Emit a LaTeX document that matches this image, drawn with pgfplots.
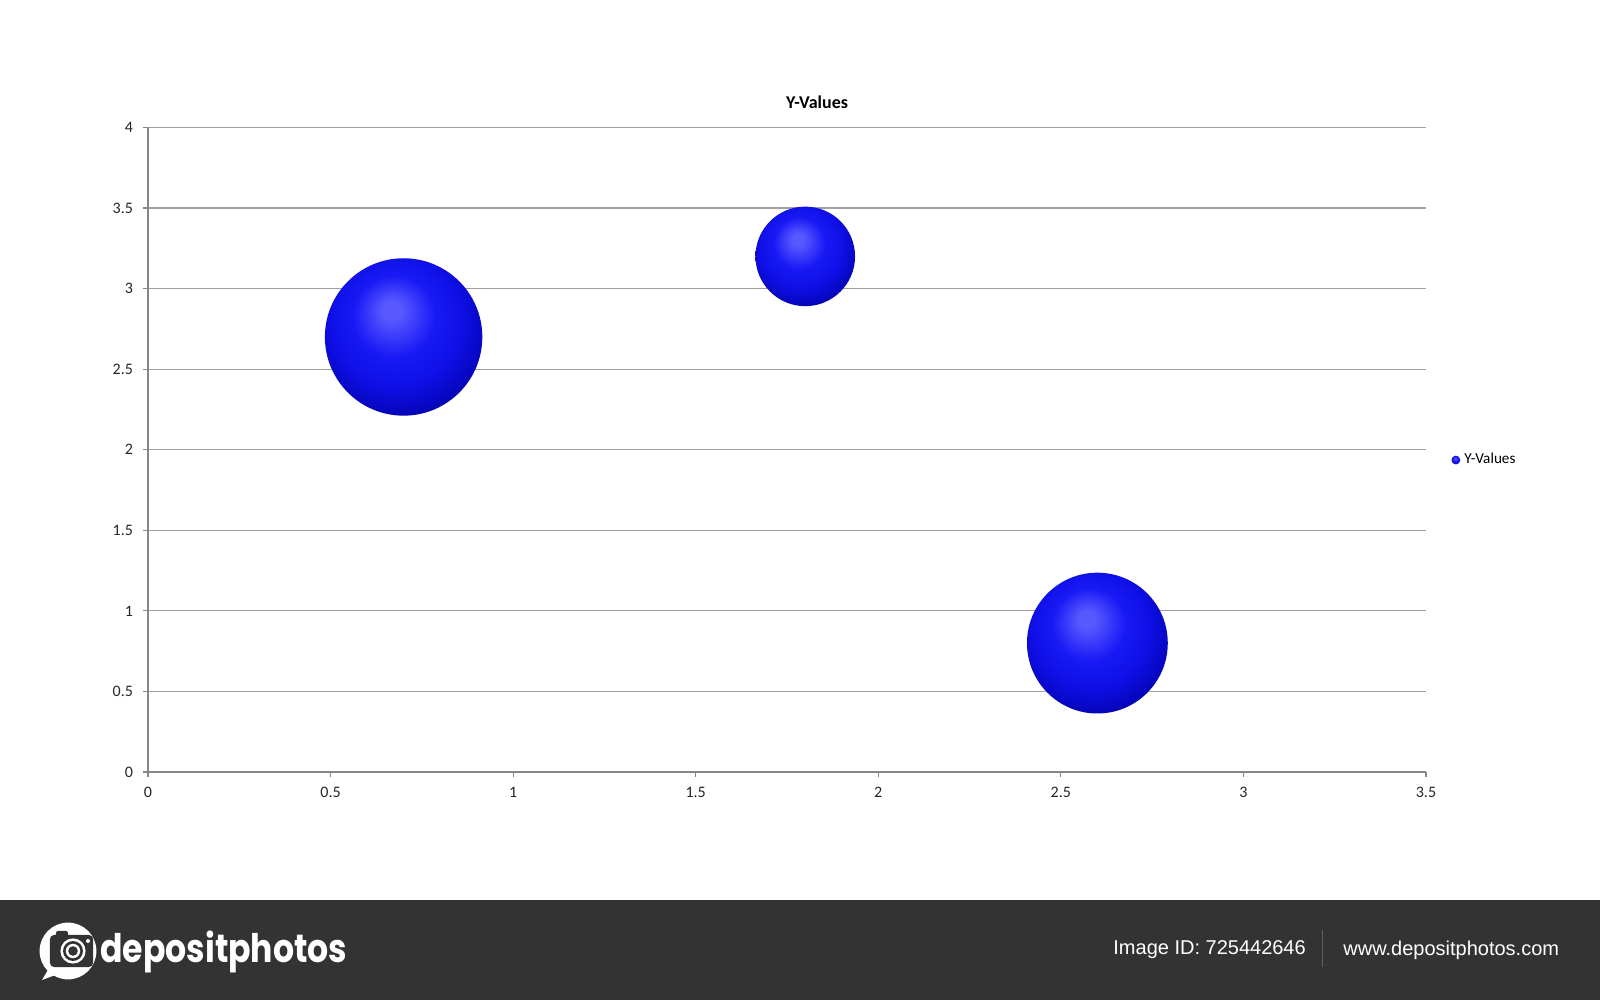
\documentclass[border=0pt]{standalone}
\usepackage{pgfplots}
\pgfplotsset{compat=1.18}
\usepackage{pgfplotstable}
\usepackage{graphicx}
\usepackage{fontspec}
\setmainfont{Carlito}
\newfontfamily\arialfont{Liberation Sans}
\newfontfamily\logofont{Poppins}

\definecolor{gridgray}{RGB}{160,160,160}
\definecolor{axisgray}{RGB}{134,134,134}
\definecolor{barbg}{RGB}{51,51,51}
\definecolor{sepgray}{RGB}{95,95,95}
\definecolor{hl}{RGB}{88,88,255}
\definecolor{bmain}{RGB}{25,25,245}
\definecolor{bmain2}{RGB}{15,15,230}
\definecolor{bmid}{RGB}{6,6,190}
\definecolor{bdark}{RGB}{0,0,115}
\definecolor{bblack}{RGB}{0,0,60}

\pgfdeclareradialshading{excelball}{\pgfpoint{-4bp}{9bp}}{%
  color(0bp)=(hl); color(3bp)=(hl); color(13bp)=(bmain);
  color(21bp)=(bmain2); color(28bp)=(bmid); color(34bp)=(bdark);
  color(40bp)=(bblack); color(50bp)=(bblack)}
\pgfdeclareplotmark{eball}{%
  \pgfpathcircle{\pgfpointorigin}{\pgfplotmarksize}%
  \pgfshadepath{excelball}{0}\pgfusepath{}}

\pgfplotstableread{
x   y   size
0.7 2.7 5
1.8 3.2 2
2.6 0.8 4
}\bubbles

\begin{document}
\begin{tikzpicture}
\fill[white] (-74pt,-114pt) rectangle (726pt,386pt);
\path[use as bounding box] (-74pt,-114pt) rectangle (726pt,386pt);
\begin{axis}[
  at={(0pt,0pt)}, anchor=south west,
  scale only axis, width=639pt, height=322.25pt,
  xmin=0, xmax=3.5, ymin=0, ymax=4,
  xtick distance=0.5, ytick distance=0.5,
  axis x line*=bottom, axis y line*=left,
  axis line style={draw=axisgray, line width=0.6pt, -},
  ymajorgrids, grid style={draw=gridgray, line width=0.6pt},
  tick align=outside, major tick length=2.5pt,
  tick style={draw=axisgray, line width=0.6pt},
  ticklabel style={font=\fontsize{8}{9}\selectfont, text=black!85},
  yticklabel style={xshift=-1.5pt},
  xticklabel style={yshift=-1.5pt},
  /pgf/number format/assume math mode=true,
  title={\bfseries Y-Values},
  title style={at={(axis description cs:0.5235,1.0206)}, anchor=center,
    font=\fontsize{9}{11}\selectfont},
  legend style={at={(axis description cs:1.0196,0.484)}, anchor=west,
    draw=none, fill=none, font=\fontsize{7.6}{9}\selectfont,
    inner sep=0pt, row sep=0pt},
  legend cell align=left,
]
\addplot[scatter, only marks, mark=eball,
  visualization depends on={\thisrow{size} \as \bsize},
  scatter/@pre marker code/.append style={/tikz/mark size={17.6pt*sqrt(\bsize)}},
  legend image code/.code={%
    \pgfpathcircle{\pgfpoint{2.3pt}{0pt}}{2.2pt}%
    \pgfshadepath{excelball}{0}\pgfusepath{}},
] table[x=x, y=y] {\bubbles};
\addlegendentry{Y-Values}
\end{axis}
% bottom banner
\fill[barbg] (-74pt,-114pt) rectangle (726pt,-64pt);
\fill[white] (-40pt,-89.5pt) circle (14.2pt);
\fill[white] (-50pt,-99pt) -- (-53pt,-104pt) -- (-45pt,-101pt) -- cycle;
\fill[barbg, rounded corners=2pt] (-49pt,-97.5pt) rectangle (-27.5pt,-81.5pt);
\fill[barbg, rounded corners=1pt] (-46pt,-83pt) rectangle (-40pt,-79.5pt);
\fill[white] (-37.5pt,-89.5pt) circle (6.3pt);
\fill[barbg] (-37.5pt,-89.5pt) circle (5pt);
\fill[white] (-37.5pt,-89.5pt) circle (3.6pt);
\fill[barbg] (-37.5pt,-89.5pt) circle (2.4pt);
\fill[white] (-30pt,-84.5pt) circle (1pt);
\node[anchor=west, inner sep=0pt, text=white] at (-24pt,-90pt)
  {\resizebox*{123.5pt}{21pt}{\logofont\bfseries depositphotos}};
\node[anchor=west, inner sep=0pt, text=white, font=\arialfont\fontsize{10}{12}\selectfont]
  at (482.5pt,-89pt) {Image ID: 725442646};
\draw[sepgray, line width=0.5pt] (587pt,-79pt) -- (587pt,-97.5pt);
\node[anchor=west, inner sep=0pt, text=white, font=\arialfont\fontsize{10}{12}\selectfont]
  at (597.5pt,-89pt) {www.depositphotos.com};
\end{tikzpicture}
\end{document}
